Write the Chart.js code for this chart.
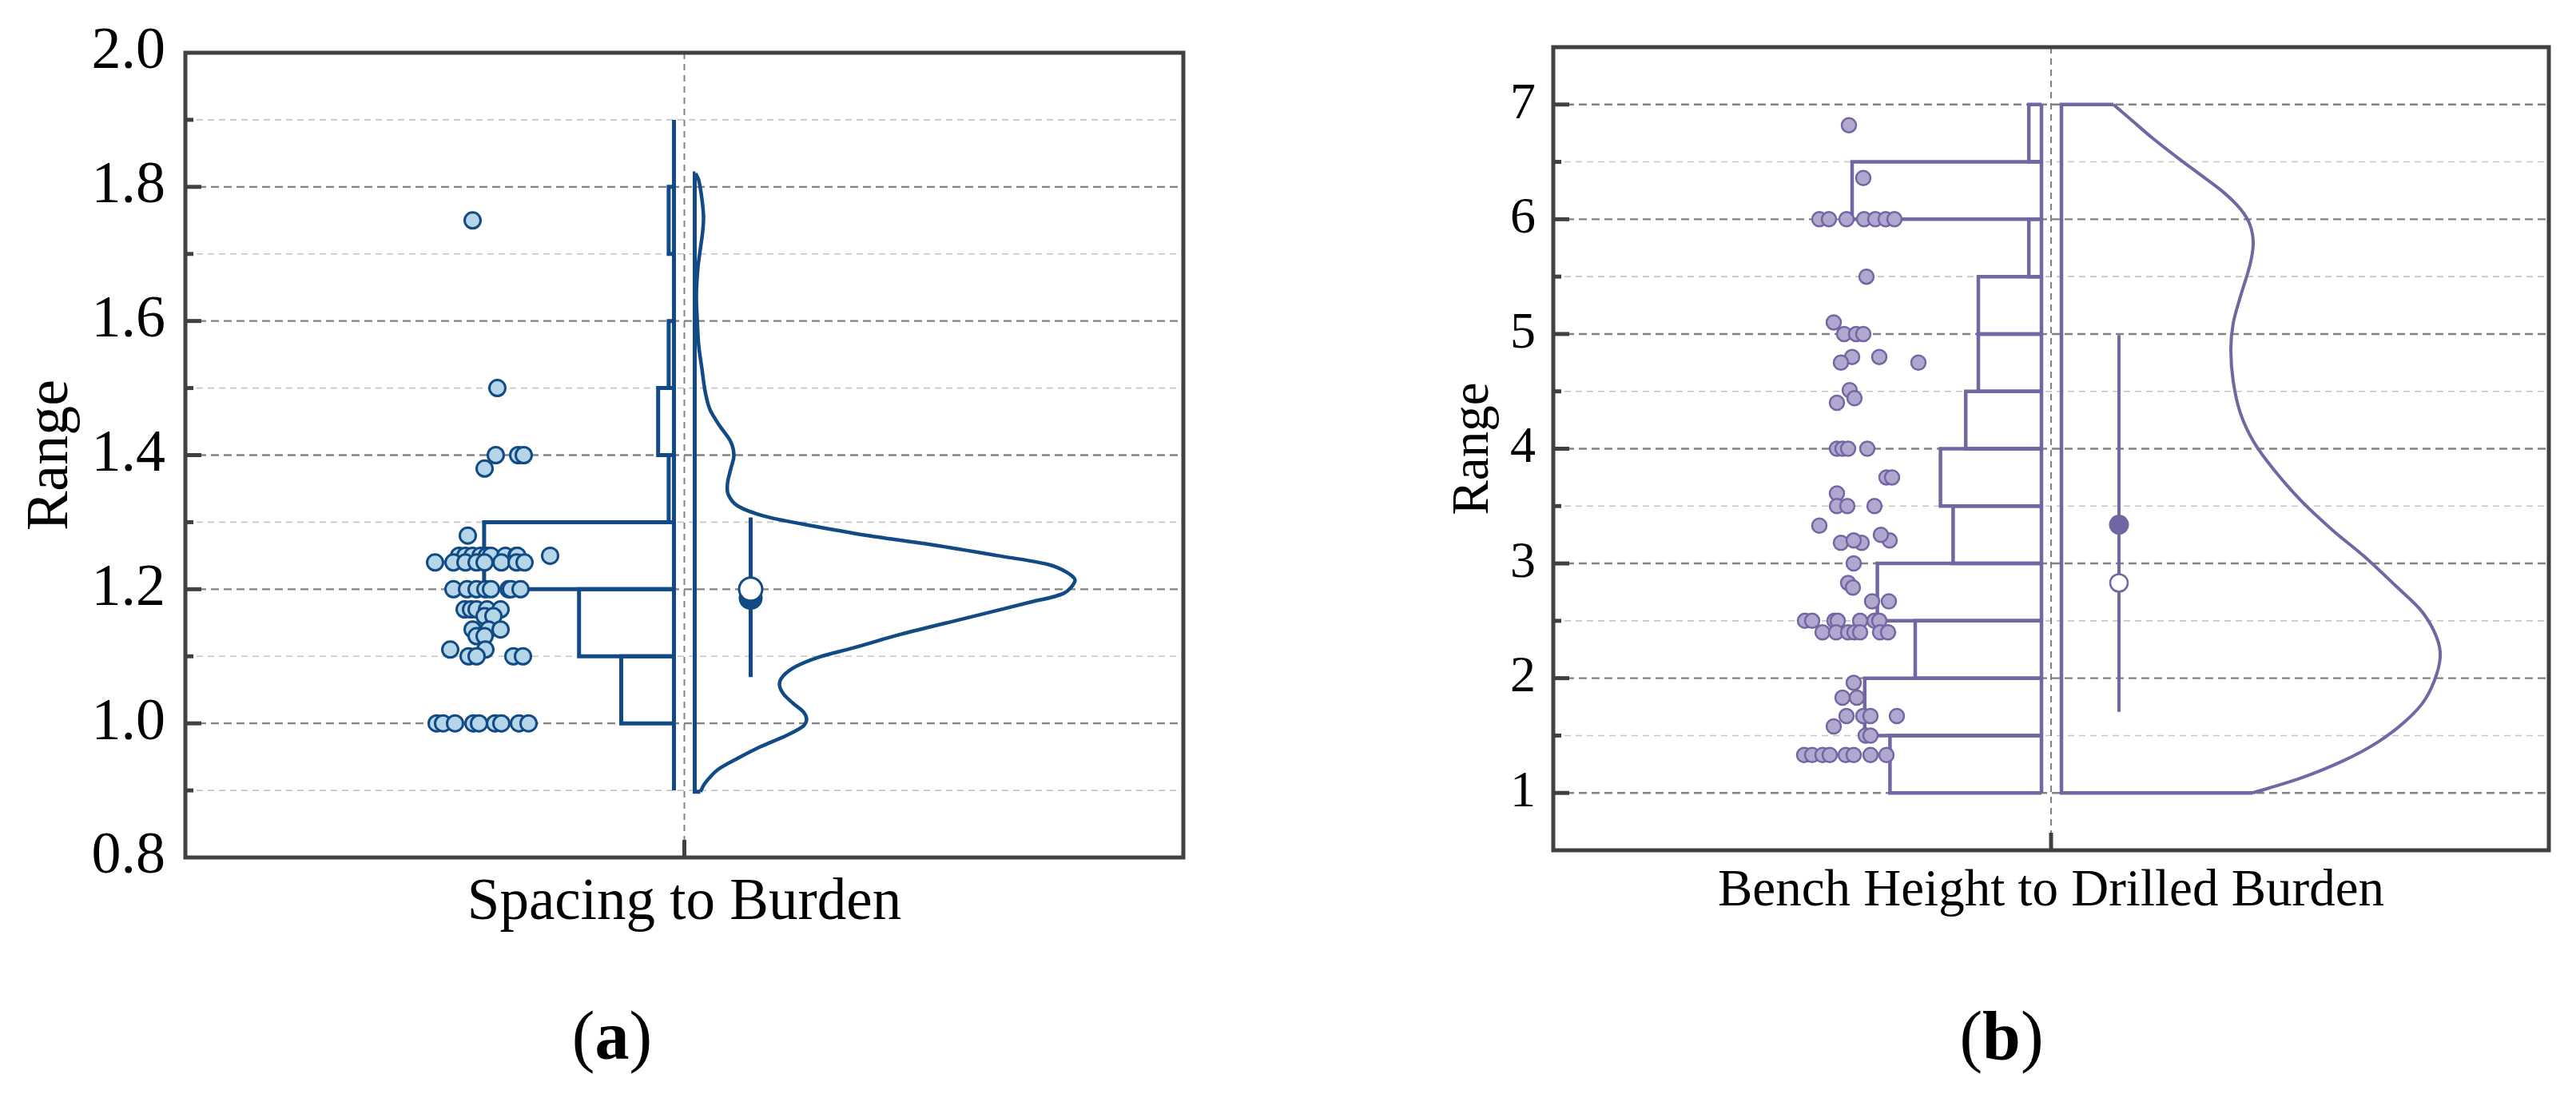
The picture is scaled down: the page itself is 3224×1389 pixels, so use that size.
<!DOCTYPE html>
<html><head><meta charset="utf-8">
<script src="https://cdn.jsdelivr.net/npm/chart.js@4.4.1/dist/chart.umd.min.js"></script>
<style>
html,body{margin:0;padding:0;background:#fff;overflow:hidden;}
#wrap{position:relative;width:3224px;height:1389px;background:#fff;}
canvas{position:absolute;top:0;}
.lab{position:absolute;top:1253px;font-family:'Liberation Serif','Times New Roman',serif;font-size:86px;line-height:86px;transform:translateX(-50%);color:#000;white-space:nowrap;}
</style></head><body>
<div id="wrap">
<canvas id="ca" width="1600" height="1389" style="left:0px"></canvas>
<canvas id="cb" width="1624" height="1389" style="left:1600px"></canvas>
<div class="lab" style="left:766px">(<b>a</b>)</div>
<div class="lab" style="left:2505px">(<b>b</b>)</div>
</div>
<script>
// ---------------- DATA: panel (a) ----------------
const categoryA = 'Spacing to Burden';
const yTitleA = 'Range';
const yTicksA = [0.8,0.9,1.0,1.1,1.2,1.3,1.4,1.5,1.6,1.7,1.8,1.9,2.0];
const yTickLabelValuesA = [0.8,1.0,1.2,1.4,1.6,1.8,2.0];
const yTickLabelsA = ['0.8','1.0','1.2','1.4','1.6','1.8','2.0'];
const pointsA = [1.75,1.5,1.4,1.4,1.4,1.38,1.28,
  1.25,1.25,1.25,1.25,1.25,1.25,1.25,1.25,1.25,1.25,
  1.24,1.24,1.24,1.24,1.24,1.24,1.24,1.24,
  1.2,1.2,1.2,1.2,1.2,1.2,1.2,1.2,
  1.17,1.17,1.17,1.17,1.17,1.16,1.16,
  1.14,1.14,1.14,1.13,1.13,1.11,1.11,
  1.1,1.1,1.1,1.1,
  1.0,1.0,1.0,1.0,1.0,1.0,1.0,1.0,1.0];
const jitterA = [-265,-234,-236,-208,-201,-250,-271,
  -282,-274,-265,-255,-247,-242,-224,-210,-209,-168,
  -312,-289,-274,-260,-250,-229,-210,-200,
  -289,-272,-260,-249,-242,-220,-217,-205,
  -275,-267,-260,-247,-230,-250,-239,
  -265,-245,-230,-260,-250,-293,-249,
  -270,-260,-214,-202,
  -310,-302,-287,-264,-257,-237,-229,-207,-195];
const binEdgesA = [0.9,1.0,1.1,1.2,1.3,1.4,1.5,1.6,1.7,1.8,1.9];
const binCountsA = [0,10,18,36,1,3,1,0,1,0];
const densYA = [0.898,0.911,0.931,0.948,0.965,0.982,0.996,1.006,1.017,1.030,1.044,1.058,1.071,1.085,1.099,1.112,1.133,1.157,1.181,1.194,1.213,1.225,1.237,1.250,1.266,1.280,1.297,1.309,1.324,1.341,1.358,1.379,1.399,1.420,1.444,1.468,1.495,1.529,1.563,1.604,1.639,1.680,1.707,1.734,1.755,1.782,1.810,1.820];
const densWA = [7,13,29,54,82,115,136,140,136,123,111,106,111,127,156,197,258,340,421,462,476,466,442,380,299,217,136,87,54,42,41,45,49,45,31,19,13,9,5,3,2,4,7,10,11,9,5,1];
const meanA = 1.187;
const medianA = 1.2;
const rangeBarA = [1.069, 1.307];

// ---------------- DATA: panel (b) ----------------
const categoryB = 'Bench Height to Drilled Burden';
const yTitleB = 'Range';
const yTicksB = [0.5,1,1.5,2,2.5,3,3.5,4,4.5,5,5.5,6,6.5,7,7.5];
const yTickLabelValuesB = [1,2,3,4,5,6,7];
const yTickLabelsB = ['1','2','3','4','5','6','7'];
const pointsB = [6.82,6.36,
  6,6,6,6,6,6,6,
  5.5,5.1,5,5,5,4.8,4.8,4.75,4.75,4.51,4.44,4.4,
  4,4,4,4,3.75,3.75,3.61,3.5,3.5,3.5,3.33,
  3.18,3.18,3.2,3.2,3.25,3.0,2.83,2.79,2.67,2.67,
  2.5,2.5,2.5,2.5,2.5,2.5,2.5,
  2.4,2.4,2.4,2.4,2.4,2.4,2.4,
  1.96,1.83,1.83,1.67,1.67,1.67,1.67,1.58,1.5,1.5,
  1.33,1.33,1.33,1.33,1.33,1.33,1.33,1.33];
const jitterB = [-253,-235,
  -290,-278,-256,-234,-220,-207,-196,
  -231,-272,-259,-244,-235,-249,-215,-263,-166,-252,-246,-268,
  -268,-261,-254,-230,-206,-199,-268,-268,-255,-221,-290,
  -263,-237,-247,-202,-213,-247,-254,-248,-224,-203,
  -308,-299,-271,-267,-239,-221,-215,
  -286,-269,-254,-246,-239,-214,-204,
  -247,-261,-243,-256,-235,-226,-193,-272,-232,-226,
  -309,-299,-286,-277,-257,-247,-226,-206];
const binEdgesB = [1,1.5,2,2.5,3,3.5,4,4.5,5,5.5,6,6.5,7];
const binCountsB = [12,14,10,13,7,8,6,5,5,1,15,1];
const densYB = [1.0,1.120,1.281,1.443,1.628,1.813,2.044,2.229,2.414,2.599,2.807,3.061,3.292,3.546,3.824,4.055,4.309,4.587,4.864,5.095,5.326,5.604,5.789,5.951,6.089,6.228,6.367,6.528,6.713,6.875,7.0];
const densWB = [239,296,353,396,431,455,470,474,466,449,418,379,339,300,265,241,224,215,212,215,224,236,240,236,224,204,178,147,113,86,65];
const meanB = 3.338;
const medianB = 2.83;
const rangeBarB = [1.706, 4.99];

// ---------------- rendering ----------------
Chart.defaults.font.family = "'Liberation Serif','Times New Roman',serif";
Chart.defaults.color = '#000';

function near(a,b){return Math.abs(a-b)<1e-6;}

function framePlugin(majors){
  return {
    id:'frameGrid',
    beforeDatasetsDraw(chart){
      const {ctx, chartArea:a, scales:{x,y}} = chart;
      ctx.save();
      y.ticks.forEach(t=>{
        const v=t.value;
        if (near(v,y.min)||near(v,y.max)) return;
        const py=y.getPixelForValue(v);
        const major = majors.some(m=>near(m,v));
        ctx.beginPath();
        ctx.setLineDash(major?[10,6]:[8,6]);
        ctx.strokeStyle = major?'#828282':'#c6c6c6';
        ctx.lineWidth = major?2.4:1.6;
        ctx.moveTo(a.left,py); ctx.lineTo(a.right,py); ctx.stroke();
      });
      const cx=x.getPixelForValue(0);
      ctx.beginPath(); ctx.setLineDash([8,6]); ctx.strokeStyle='#828282'; ctx.lineWidth=2;
      ctx.moveTo(cx,a.top); ctx.lineTo(cx,a.bottom); ctx.stroke();
      ctx.restore();
    },
    afterDraw(chart){
      const {ctx, chartArea:a, scales:{x,y}} = chart;
      ctx.save();
      ctx.setLineDash([]);
      ctx.strokeStyle='#404040';
      ctx.lineWidth=5;
      y.ticks.forEach(t=>{
        const v=t.value;
        if (near(v,y.min)||near(v,y.max)) return;
        const py=y.getPixelForValue(v);
        const major = majors.some(m=>near(m,v));
        ctx.beginPath(); ctx.moveTo(a.left,py); ctx.lineTo(a.left+(major?20:10),py); ctx.stroke();
      });
      const cx=x.getPixelForValue(0);
      ctx.beginPath(); ctx.moveTo(cx,a.bottom); ctx.lineTo(cx,a.bottom-22); ctx.stroke();
      ctx.lineWidth=5;
      ctx.strokeRect(a.left,a.top,a.right-a.left,a.bottom-a.top);
      ctx.restore();
    }
  };
}

function lineDs(pts, color, width, order, tension){
  return {data:pts, showLine:true, pointRadius:0, pointHoverRadius:0, borderColor:color, backgroundColor:'transparent',
    borderWidth:width, fill:false, tension:tension||0, order:order, borderJoinStyle:'miter', borderCapStyle:'butt'};
}

function buildPanel(id, d, L){
  const ds=[];
  ds.push({data:d.pts.map((v,i)=>({x:d.jit[i],y:v})), showLine:false, pointRadius:L.ptR, pointHoverRadius:L.ptR,
    pointBorderWidth:L.ptBW, pointBackgroundColor:L.fill, pointBorderColor:L.line, order:5});
  for(let i=0;i<d.counts.length;i++){
    const c=d.counts[i]; if(!c) continue;
    const lo=d.edges[i], hi=d.edges[i+1], w=L.histBase-c*L.histK;
    ds.push(lineDs([{x:L.histBase,y:lo},{x:w,y:lo},{x:w,y:hi},{x:L.histBase,y:hi}], L.line, L.lw, 6));
  }
  ds.push(lineDs([{x:L.histBase,y:d.edges[0]},{x:L.histBase,y:d.edges[d.edges.length-1]}], L.line, L.lw, 6));
  ds.push(lineDs(d.densY.map((v,i)=>({x:L.densBase+d.densW[i],y:v})), L.line, L.dlw, 6, 0.3));
  const n=d.densY.length;
  ds.push(lineDs([{x:L.densBase+d.densW[0],y:d.densY[0]},{x:L.densBase,y:d.densY[0]},{x:L.densBase,y:d.densY[n-1]},{x:L.densBase+d.densW[n-1],y:d.densY[n-1]}], L.line, L.lw, 6));
  ds.push(lineDs([{x:L.whX,y:d.bar[0]},{x:L.whX,y:d.bar[1]}], L.line, L.whW, 3));
  ds.push({data:[{x:L.whX,y:d.mean}], showLine:false, pointRadius:L.meanR, pointHoverRadius:L.meanR, pointBackgroundColor:L.line, pointBorderColor:L.line, pointBorderWidth:2, order:2});
  ds.push({data:[{x:L.whX,y:d.median}], showLine:false, pointRadius:L.medR, pointHoverRadius:L.medR, pointBackgroundColor:'#ffffff', pointBorderColor:L.line, pointBorderWidth:L.medBW, order:1});

  return new Chart(document.getElementById(id), {
    type:'scatter',
    data:{datasets:ds},
    plugins:[framePlugin(d.labVals)],
    options:{
      responsive:false, animation:false, devicePixelRatio:1, events:[],
      layout:{padding:{left:0, top:L.padTop, right:L.padRight, bottom:L.padBottom}},
      plugins:{legend:{display:false}, tooltip:{enabled:false}},
      scales:{
        x:{type:'linear', min:-L.xHalf, max:L.xHalf,
          grid:{display:false, drawTicks:false}, border:{display:false}, ticks:{display:false},
          title:{display:true, text:d.category, color:'#000', font:{size:L.xTitleSize, lineHeight:1}, padding:{top:0,bottom:L.xTitlePad}},
          afterFit:s=>{s.height=L.xAxisH;}},
        y:{type:'linear', min:d.yMin, max:d.yMax,
          afterBuildTicks:s=>{s.ticks=d.yTicks.map(v=>({value:v}));},
          ticks:{autoSkip:false, padding:L.tickPad, color:'#000', font:{size:L.tickSize, lineHeight:1},
            callback:(v)=>{const k=d.labVals.findIndex(m=>near(m,v)); return k>=0?d.labTxt[k]:'';}},
          grid:{display:false, drawTicks:false}, border:{display:false},
          title:{display:true, text:d.yTitle, color:'#000', font:{size:L.yTitleSize, lineHeight:1}, padding:{top:L.yTitlePad,bottom:0}},
          afterFit:s=>{s.width=L.yAxisW;}}
      }
    }
  });
}

buildPanel('ca', {
  category:categoryA, yTitle:yTitleA, yMin:0.8, yMax:2.0, yTicks:yTicksA, labVals:yTickLabelValuesA, labTxt:yTickLabelsA,
  pts:pointsA, jit:jitterA, edges:binEdgesA, counts:binCountsA, densY:densYA, densW:densWA,
  mean:meanA, median:medianA, bar:rangeBarA
}, {
  line:'#114a85', fill:'#b5d5e8', padTop:66, padRight:119, padBottom:196, yAxisW:232, xAxisH:120,
  xHalf:624.5, xTitleSize:73, xTitlePad:26, yTitleSize:74, yTitlePad:28, tickSize:74, tickPad:25,
  ptR:10, ptBW:3, lw:5, dlw:4.5, histBase:-13, histK:6.6, densBase:13, whX:83, whW:5,
  meanR:14, medR:14.5, medBW:3
});

buildPanel('cb', {
  category:categoryB, yTitle:yTitleB, yMin:0.5, yMax:7.5, yTicks:yTicksB, labVals:yTickLabelValuesB, labTxt:yTickLabelsB,
  pts:pointsB, jit:jitterB, edges:binEdgesB, counts:binCountsB, densY:densYB, densW:densWB,
  mean:meanB, median:medianB, bar:rangeBarB
}, {
  line:'#7266a3', fill:'#b1a7cf', padTop:59, padRight:34, padBottom:205, yAxisW:344, xAxisH:120,
  xHalf:623, xTitleSize:65, xTitlePad:36, yTitleSize:65, yTitlePad:212, tickSize:64, tickPad:22,
  ptR:9, ptBW:2.5, lw:4.5, dlw:4, histBase:-12, histK:15.8, densBase:13, whX:85, whW:4,
  meanR:11.5, medR:11, medBW:2.5
});
</script>
</body></html>
